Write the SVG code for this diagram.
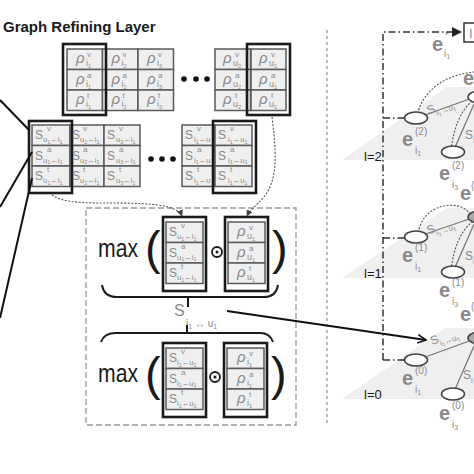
<svg xmlns="http://www.w3.org/2000/svg" width="474" height="474" viewBox="0 0 474 474">
<style>
.c{fill:#efefef;stroke:#5a5a5a;stroke-width:1.5}
.bx{fill:none;stroke:#1a1a1a;stroke-width:2.6}
.t{font-family:"Liberation Sans","DejaVu Sans",sans-serif;fill:#8a8a8a}
.rho{font-size:15px;font-style:italic}
.sp{font-size:8px}
.sb{font-size:9px}
.S{font-size:12px}
.ss{font-size:7.5px}
.n{font-size:5.5px}
.k{font-family:"Liberation Sans","DejaVu Sans",sans-serif;fill:#1a1a1a}
.e{font-family:"Liberation Sans","DejaVu Sans",sans-serif;fill:#8a8a8a;font-size:20px;font-weight:bold}
.es{font-family:"Liberation Sans","DejaVu Sans",sans-serif;fill:#8a8a8a;font-size:10px}
.el{fill:#fff;stroke:#444;stroke-width:1.5}
.elg{fill:#aaa;stroke:#444;stroke-width:1.5}
.ed{stroke:#777;stroke-width:1.3;fill:none}
.dc{stroke:#555;stroke-width:1.1;fill:none;stroke-dasharray:2,1.5}
.dd{stroke:#333;stroke-width:1.5;fill:none;stroke-dasharray:7,3,1.5,3}
.pl{fill:#efefef}
.par{font-family:"Liberation Sans","DejaVu Sans",sans-serif;fill:#1a1a1a;font-size:47px}
</style>
<defs>
<marker id="ah" viewBox="0 0 10 10" refX="9" refY="5" markerWidth="6" markerHeight="6" orient="auto"><path d="M0,0 L10,5 L0,10 z" fill="#444"/></marker>
<marker id="ahk" viewBox="0 0 10 10" refX="9" refY="5" markerWidth="7" markerHeight="7" orient="auto"><path d="M0,0 L10,5 L0,10 z" fill="#222"/></marker>
<marker id="open" viewBox="0 0 12 12" refX="11" refY="6" markerWidth="10" markerHeight="10" markerUnits="userSpaceOnUse" orient="auto"><path d="M1,1 L11,6 L1,11" fill="none" stroke="#111" stroke-width="2"/></marker>
</defs>

<text x="3" y="32" class="k" font-size="15" font-weight="bold">Graph Refining Layer</text>

<!-- top rho grid -->
<g id="rho-grid">
<rect class="c" x="67" y="49" width="35.5" height="20.5"/><rect class="c" x="67" y="69.5" width="35.5" height="20.5"/><rect class="c" x="67" y="90" width="35.5" height="20.5"/>
<rect class="c" x="102.5" y="49" width="35.5" height="20.5"/><rect class="c" x="102.5" y="69.5" width="35.5" height="20.5"/><rect class="c" x="102.5" y="90" width="35.5" height="20.5"/>
<rect class="c" x="138" y="49" width="35.5" height="20.5"/><rect class="c" x="138" y="69.5" width="35.5" height="20.5"/><rect class="c" x="138" y="90" width="35.5" height="20.5"/>
<rect class="c" x="215" y="49" width="35.5" height="20.5"/><rect class="c" x="215" y="69.5" width="35.5" height="20.5"/><rect class="c" x="215" y="90" width="35.5" height="20.5"/>
<rect class="c" x="251" y="49" width="35" height="20.5"/><rect class="c" x="251" y="69.5" width="35" height="20.5"/><rect class="c" x="251" y="90" width="35" height="20.5"/>
<rect class="bx" x="63" y="44" width="43" height="71"/>
<rect class="bx" x="247" y="44" width="43" height="71"/>
<text class="t rho" x="76" y="63">ρ</text><text class="t sp" x="87" y="57">v</text><text class="t sb" x="86" y="66">i<tspan class="n" dy="2">1</tspan></text>
<text class="t rho" x="76" y="83.5">ρ</text><text class="t sp" x="87" y="77.5">a</text><text class="t sb" x="86" y="86.5">i<tspan class="n" dy="2">1</tspan></text>
<text class="t rho" x="76" y="104">ρ</text><text class="t sp" x="87" y="98">t</text><text class="t sb" x="86" y="107">i<tspan class="n" dy="2">1</tspan></text>
<text class="t rho" x="111.5" y="63">ρ</text><text class="t sp" x="122.5" y="57">v</text><text class="t sb" x="121.5" y="66">i<tspan class="n" dy="2">2</tspan></text>
<text class="t rho" x="111.5" y="83.5">ρ</text><text class="t sp" x="122.5" y="77.5">a</text><text class="t sb" x="121.5" y="86.5">i<tspan class="n" dy="2">2</tspan></text>
<text class="t rho" x="111.5" y="104">ρ</text><text class="t sp" x="122.5" y="98">t</text><text class="t sb" x="121.5" y="107">i<tspan class="n" dy="2">2</tspan></text>
<text class="t rho" x="147" y="63">ρ</text><text class="t sp" x="158" y="57">v</text><text class="t sb" x="157" y="66">i<tspan class="n" dy="2">3</tspan></text>
<text class="t rho" x="147" y="83.5">ρ</text><text class="t sp" x="158" y="77.5">a</text><text class="t sb" x="157" y="86.5">i<tspan class="n" dy="2">3</tspan></text>
<text class="t rho" x="147" y="104">ρ</text><text class="t sp" x="158" y="98">t</text><text class="t sb" x="157" y="107">i<tspan class="n" dy="2">3</tspan></text>
<text class="t rho" x="223" y="63">ρ</text><text class="t sp" x="235" y="57">v</text><text class="t sb" x="233" y="66">u<tspan class="n" dy="2">2</tspan></text>
<text class="t rho" x="223" y="83.5">ρ</text><text class="t sp" x="235" y="77.5">a</text><text class="t sb" x="233" y="86.5">u<tspan class="n" dy="2">2</tspan></text>
<text class="t rho" x="223" y="104">ρ</text><text class="t sp" x="235" y="98">t</text><text class="t sb" x="233" y="107">u<tspan class="n" dy="2">2</tspan></text>
<text class="t rho" x="259" y="63">ρ</text><text class="t sp" x="271" y="57">v</text><text class="t sb" x="269" y="66">u<tspan class="n" dy="2">1</tspan></text>
<text class="t rho" x="259" y="83.5">ρ</text><text class="t sp" x="271" y="77.5">a</text><text class="t sb" x="269" y="86.5">u<tspan class="n" dy="2">1</tspan></text>
<text class="t rho" x="259" y="104">ρ</text><text class="t sp" x="271" y="98">t</text><text class="t sb" x="269" y="107">u<tspan class="n" dy="2">1</tspan></text>
<circle cx="184" cy="79" r="2.8" fill="#111"/><circle cx="196" cy="79" r="2.8" fill="#111"/><circle cx="207" cy="79" r="2.8" fill="#111"/>
</g>

<!-- s grid -->
<g id="s-grid">
<rect class="c" x="32" y="125" width="38" height="20.5"/><rect class="c" x="32" y="145.5" width="38" height="20.5"/><rect class="c" x="32" y="166" width="38" height="20.5"/>
<rect class="c" x="70" y="125" width="34" height="20.5"/><rect class="c" x="70" y="145.5" width="34" height="20.5"/><rect class="c" x="70" y="166" width="34" height="20.5"/>
<rect class="c" x="104" y="125" width="36" height="20.5"/><rect class="c" x="104" y="145.5" width="36" height="20.5"/><rect class="c" x="104" y="166" width="36" height="20.5"/>
<rect class="c" x="182" y="125" width="33" height="20.5"/><rect class="c" x="182" y="145.5" width="33" height="20.5"/><rect class="c" x="182" y="166" width="33" height="20.5"/>
<rect class="c" x="215" y="125" width="37" height="20.5"/><rect class="c" x="215" y="145.5" width="37" height="20.5"/><rect class="c" x="215" y="166" width="37" height="20.5"/>
<rect class="bx" x="29" y="121" width="43" height="72"/>
<rect class="bx" x="213" y="121" width="43" height="72"/>
<text class="t S" x="35" y="139">S</text><text class="t sp" x="47" y="131">v</text><text class="t ss" x="43" y="142">u<tspan class="n" dy="1.5">1</tspan><tspan dy="-1.5">←i</tspan><tspan class="n" dy="1.5">1</tspan></text>
<text class="t S" x="35" y="159.5">S</text><text class="t sp" x="47" y="151.5">a</text><text class="t ss" x="43" y="162.5">u<tspan class="n" dy="1.5">1</tspan><tspan dy="-1.5">←i</tspan><tspan class="n" dy="1.5">1</tspan></text>
<text class="t S" x="35" y="180">S</text><text class="t sp" x="47" y="172">t</text><text class="t ss" x="43" y="183">u<tspan class="n" dy="1.5">1</tspan><tspan dy="-1.5">←i</tspan><tspan class="n" dy="1.5">1</tspan></text>
<text class="t S" x="72" y="139">S</text><text class="t sp" x="83" y="131">v</text><text class="t ss" x="80" y="142">u<tspan class="n" dy="1.5">2</tspan><tspan dy="-1.5">←i</tspan><tspan class="n" dy="1.5">1</tspan></text>
<text class="t S" x="72" y="159.5">S</text><text class="t sp" x="83" y="151.5">a</text><text class="t ss" x="80" y="162.5">u<tspan class="n" dy="1.5">2</tspan><tspan dy="-1.5">←i</tspan><tspan class="n" dy="1.5">1</tspan></text>
<text class="t S" x="72" y="180">S</text><text class="t sp" x="83" y="172">t</text><text class="t ss" x="80" y="183">u<tspan class="n" dy="1.5">2</tspan><tspan dy="-1.5">←i</tspan><tspan class="n" dy="1.5">1</tspan></text>
<text class="t S" x="107" y="139">S</text><text class="t sp" x="119" y="131">v</text><text class="t ss" x="116" y="142">u<tspan class="n" dy="1.5">3</tspan><tspan dy="-1.5">←i</tspan><tspan class="n" dy="1.5">1</tspan></text>
<text class="t S" x="107" y="159.5">S</text><text class="t sp" x="119" y="151.5">a</text><text class="t ss" x="116" y="162.5">u<tspan class="n" dy="1.5">3</tspan><tspan dy="-1.5">←i</tspan><tspan class="n" dy="1.5">1</tspan></text>
<text class="t S" x="107" y="180">S</text><text class="t sp" x="119" y="172">t</text><text class="t ss" x="116" y="183">u<tspan class="n" dy="1.5">3</tspan><tspan dy="-1.5">←i</tspan><tspan class="n" dy="1.5">1</tspan></text>
<text class="t S" x="185" y="139">S</text><text class="t sp" x="197" y="131">v</text><text class="t ss" x="194" y="142">i<tspan class="n" dy="1.5">1</tspan><tspan dy="-1.5">←u</tspan></text>
<text class="t S" x="185" y="159.5">S</text><text class="t sp" x="197" y="151.5">a</text><text class="t ss" x="194" y="162.5">i<tspan class="n" dy="1.5">1</tspan><tspan dy="-1.5">←u</tspan></text>
<text class="t S" x="185" y="180">S</text><text class="t sp" x="197" y="172">t</text><text class="t ss" x="194" y="183">i<tspan class="n" dy="1.5">1</tspan><tspan dy="-1.5">←u</tspan></text>
<text class="t S" x="218" y="139">S</text><text class="t sp" x="230" y="131">v</text><text class="t ss" x="228" y="142">i<tspan class="n" dy="1.5">1</tspan><tspan dy="-1.5">←u</tspan><tspan class="n" dy="1.5">1</tspan></text>
<text class="t S" x="218" y="159.5">S</text><text class="t sp" x="230" y="151.5">a</text><text class="t ss" x="228" y="162.5">i<tspan class="n" dy="1.5">1</tspan><tspan dy="-1.5">←u</tspan><tspan class="n" dy="1.5">1</tspan></text>
<text class="t S" x="218" y="180">S</text><text class="t sp" x="230" y="172">t</text><text class="t ss" x="228" y="183">i<tspan class="n" dy="1.5">1</tspan><tspan dy="-1.5">←u</tspan><tspan class="n" dy="1.5">1</tspan></text>
<circle cx="151" cy="159" r="2.8" fill="#111"/><circle cx="162" cy="159" r="2.8" fill="#111"/><circle cx="173" cy="159" r="2.8" fill="#111"/>
</g>

<!-- max block -->
<g id="max-block">
<rect x="86" y="208" width="210" height="217" fill="none" stroke="#999" stroke-width="1.3" stroke-dasharray="6,3"/>
<text class="k" x="98" y="257" font-size="26" textLength="40" lengthAdjust="spacingAndGlyphs">max</text>
<text class="par" x="145" y="264">(</text>
<text class="par" x="272" y="264">)</text>
<rect class="c" x="166" y="222" width="37" height="20.5"/><rect class="c" x="166" y="242.5" width="37" height="20.5"/><rect class="c" x="166" y="263" width="37" height="20.5"/>
<rect class="bx" x="163" y="217" width="43" height="74"/>
<text class="t S" x="169" y="236">S</text><text class="t sp" x="181" y="228">v</text><text class="t ss" x="177" y="239">u<tspan class="n" dy="1.5">1</tspan><tspan dy="-1.5">←i</tspan><tspan class="n" dy="1.5">1</tspan></text>
<text class="t S" x="169" y="256.5">S</text><text class="t sp" x="181" y="248.5">a</text><text class="t ss" x="177" y="259.5">u<tspan class="n" dy="1.5">1</tspan><tspan dy="-1.5">←i</tspan><tspan class="n" dy="1.5">1</tspan></text>
<text class="t S" x="169" y="277">S</text><text class="t sp" x="181" y="269">t</text><text class="t ss" x="177" y="280">u<tspan class="n" dy="1.5">1</tspan><tspan dy="-1.5">←i</tspan><tspan class="n" dy="1.5">1</tspan></text>
<circle cx="217" cy="252" r="5" fill="none" stroke="#1a1a1a" stroke-width="1.8"/><circle cx="217" cy="252" r="1.5" fill="#1a1a1a"/>
<rect class="c" x="228" y="222" width="37" height="20.5"/><rect class="c" x="228" y="242.5" width="37" height="20.5"/><rect class="c" x="228" y="263" width="37" height="20.5"/>
<rect class="bx" x="225" y="217" width="43" height="74"/>
<text class="t rho" x="237" y="236">ρ</text><text class="t sp" x="249" y="230">v</text><text class="t sb" x="247" y="239">u<tspan class="n" dy="2">1</tspan></text>
<text class="t rho" x="237" y="256.5">ρ</text><text class="t sp" x="249" y="250.5">a</text><text class="t sb" x="247" y="259.5">u<tspan class="n" dy="2">1</tspan></text>
<text class="t rho" x="237" y="277">ρ</text><text class="t sp" x="249" y="271">t</text><text class="t sb" x="247" y="280">u<tspan class="n" dy="2">1</tspan></text>
<path d="M102,285 Q104,297 117,297 L264,297 Q276,297 278,285 M188,297 L188,307" fill="none" stroke="#1a1a1a" stroke-width="2"/>
<text class="t" x="174" y="316" font-size="16">S</text>
<text class="t" x="186" y="327" font-size="10">i<tspan font-size="7" dy="2">1</tspan><tspan dy="-2"> ↔ u</tspan><tspan font-size="7" dy="2">1</tspan></text>
<path d="M187,325 L187,333 M101,342 Q104,333 116,333 L260,333 Q270,333 273,342" fill="none" stroke="#1a1a1a" stroke-width="2"/>
<text class="k" x="98" y="382" font-size="26" textLength="40" lengthAdjust="spacingAndGlyphs">max</text>
<text class="par" x="145" y="390">(</text>
<text class="par" x="271" y="390">)</text>
<rect class="c" x="166" y="348" width="37" height="20.5"/><rect class="c" x="166" y="368.5" width="37" height="20.5"/><rect class="c" x="166" y="389" width="37" height="20.5"/>
<rect class="bx" x="163" y="343" width="43" height="74"/>
<text class="t S" x="169" y="362">S</text><text class="t sp" x="181" y="354">v</text><text class="t ss" x="177" y="365">i<tspan class="n" dy="1.5">1</tspan><tspan dy="-1.5">←u</tspan><tspan class="n" dy="1.5">1</tspan></text>
<text class="t S" x="169" y="382.5">S</text><text class="t sp" x="181" y="374.5">a</text><text class="t ss" x="177" y="385.5">i<tspan class="n" dy="1.5">1</tspan><tspan dy="-1.5">←u</tspan><tspan class="n" dy="1.5">1</tspan></text>
<text class="t S" x="169" y="403">S</text><text class="t sp" x="181" y="395">t</text><text class="t ss" x="177" y="406">i<tspan class="n" dy="1.5">1</tspan><tspan dy="-1.5">←u</tspan><tspan class="n" dy="1.5">1</tspan></text>
<circle cx="215" cy="377" r="5" fill="none" stroke="#1a1a1a" stroke-width="1.8"/><circle cx="215" cy="377" r="1.5" fill="#1a1a1a"/>
<rect class="c" x="227" y="348" width="37" height="20.5"/><rect class="c" x="227" y="368.5" width="37" height="20.5"/><rect class="c" x="227" y="389" width="37" height="20.5"/>
<rect class="bx" x="224" y="343" width="43" height="74"/>
<text class="t rho" x="237" y="362">ρ</text><text class="t sp" x="249" y="356">v</text><text class="t sb" x="247" y="365">i<tspan class="n" dy="2">1</tspan></text>
<text class="t rho" x="237" y="382.5">ρ</text><text class="t sp" x="249" y="376.5">a</text><text class="t sb" x="247" y="385.5">i<tspan class="n" dy="2">1</tspan></text>
<text class="t rho" x="237" y="403">ρ</text><text class="t sp" x="249" y="397">t</text><text class="t sb" x="247" y="406">i<tspan class="n" dy="2">1</tspan></text>
</g>

<!-- right side: layers -->
<g id="layers">
<line x1="327" y1="30" x2="327" y2="425" stroke="#bbb" stroke-width="2" stroke-dasharray="3,3"/>
<polygon class="pl" points="342,160 447,87 474,87 474,160"/>
<polygon class="pl" points="342,278 447,208 474,208 474,278"/>
<polygon class="pl" points="342,399 445,328 474,328 474,399"/>
<text class="k" x="364" y="161" font-size="13">l=2</text>
<text class="k" x="364" y="278" font-size="13">l=1</text>
<text class="k" x="364" y="399" font-size="13">l=0</text>
<rect x="464" y="23" width="20" height="19" fill="#fff" stroke="#333" stroke-width="1.5"/>
<text class="t" x="469" y="38" font-size="13">I</text>
</g>

<g id="graph-nodes">
<path class="ed" d="M417,118 L472,98"/>
<path class="ed" d="M453,152 L474,104"/>
<path class="dc" d="M417,117 C421,93 442,75 474,72"/>
<path class="dc" d="M451,150 Q455,116 472,101"/>
<path class="ed" d="M417,237 L472,218"/>
<path class="ed" d="M453,272 L474,224"/>
<path class="dc" d="M418,236 C420,203 460,198 470,214"/>
<path class="dc" d="M451,270 Q455,236 472,222"/>
<path class="ed" d="M417,360 L472,340"/>
<path class="ed" d="M453,394 L474,346"/>
<ellipse class="el" cx="416" cy="118" rx="11.5" ry="6"/>
<ellipse class="el" cx="453" cy="152" rx="11.5" ry="6"/>
<ellipse class="el" cx="480" cy="97" rx="12" ry="6"/>
<ellipse class="el" cx="416" cy="237" rx="11.5" ry="6"/>
<ellipse class="el" cx="453" cy="272" rx="11.5" ry="6"/>
<ellipse class="elg" cx="480" cy="217" rx="12" ry="6"/>
<ellipse class="el" cx="416" cy="360" rx="11.5" ry="6"/>
<ellipse class="el" cx="453" cy="394" rx="11.5" ry="6"/>
<ellipse class="elg" cx="480" cy="338" rx="12" ry="6"/>

<text class="e" x="432" y="51">e</text><text class="es" x="445" y="39">*</text><text class="es" x="444" y="57">i<tspan font-size="7" dy="2">1</tspan></text>
<text class="e" x="463" y="85">e</text>
<text class="e" x="402" y="146">e</text><text class="es" x="415" y="135">(2)</text><text class="es" x="415" y="154">i<tspan font-size="7" dy="2">1</tspan></text>
<text class="e" x="439" y="180">e</text><text class="es" x="452" y="169">(2)</text><text class="es" x="452" y="188">i<tspan font-size="7" dy="2">3</tspan></text>
<text class="e" x="460" y="200">e</text><text class="es" x="471" y="189" font-size="8">(</text>
<text class="e" x="402" y="262">e</text><text class="es" x="415" y="251">(1)</text><text class="es" x="415" y="270">i<tspan font-size="7" dy="2">1</tspan></text>
<text class="e" x="439" y="297">e</text><text class="es" x="452" y="286">(1)</text><text class="es" x="452" y="305">i<tspan font-size="7" dy="2">3</tspan></text>
<text class="e" x="460" y="321">e</text><text class="es" x="471" y="310" font-size="8">(</text>
<text class="e" x="402" y="385">e</text><text class="es" x="415" y="374">(0)</text><text class="es" x="415" y="393">i<tspan font-size="7" dy="2">1</tspan></text>
<text class="e" x="439" y="420">e</text><text class="es" x="452" y="409">(0)</text><text class="es" x="452" y="428">i<tspan font-size="7" dy="2">3</tspan></text>

<g transform="rotate(-20 430 113)"><text class="t" x="428" y="114" font-size="12">S</text><text class="t" x="436" y="118" font-size="8">i<tspan font-size="5.5" dy="1.5">1</tspan><tspan dy="-1.5">→u</tspan><tspan font-size="5.5" dy="1.5">1</tspan></text></g>
<g transform="rotate(-20 430 233)"><text class="t" x="428" y="234" font-size="12">S</text><text class="t" x="436" y="238" font-size="8">i<tspan font-size="5.5" dy="1.5">1</tspan><tspan dy="-1.5">→u</tspan><tspan font-size="5.5" dy="1.5">1</tspan></text></g>
<g transform="rotate(-20 432 345)"><text class="t" x="432" y="345" font-size="12">S</text><text class="t" x="440" y="349" font-size="8">i<tspan font-size="5.5" dy="1.5">1</tspan><tspan dy="-1.5">↔u</tspan><tspan font-size="5.5" dy="1.5">1</tspan></text></g>
<text class="t" x="465" y="139" font-size="12">S</text><text class="t" x="473" y="143" font-size="8">i</text>
<text class="t" x="465" y="260" font-size="12">S</text><text class="t" x="473" y="264" font-size="8">i</text>
<text class="t" x="463" y="379" font-size="12">S</text><text class="t" x="471" y="383" font-size="8">i</text>
</g>

<!-- connectors -->
<g id="connectors">
<line x1="0" y1="100" x2="29" y2="130" stroke="#111" stroke-width="2"/>
<line x1="0" y1="207" x2="32" y2="152" stroke="#111" stroke-width="2"/>
<line x1="0" y1="318" x2="32" y2="178" stroke="#111" stroke-width="2"/>
<path class="dc" d="M52,195 C70,208 120,200 158,205 C172,207 180,211 182,216" marker-end="url(#ah)"/>
<path class="dc" d="M272,117 C276,150 279,180 263,198 C256,206 250,210 247,216" marker-end="url(#ah)"/>
<line x1="227" y1="311" x2="426" y2="340" stroke="#111" stroke-width="2" marker-end="url(#open)"/>
<path class="dd" d="M383,360 L383,32 L461,32" marker-end="url(#ahk)"/>
<path class="dd" d="M383,118 L405,118 M383,238 L405,238 M383,360 L405,360"/>
</g>
</svg>
